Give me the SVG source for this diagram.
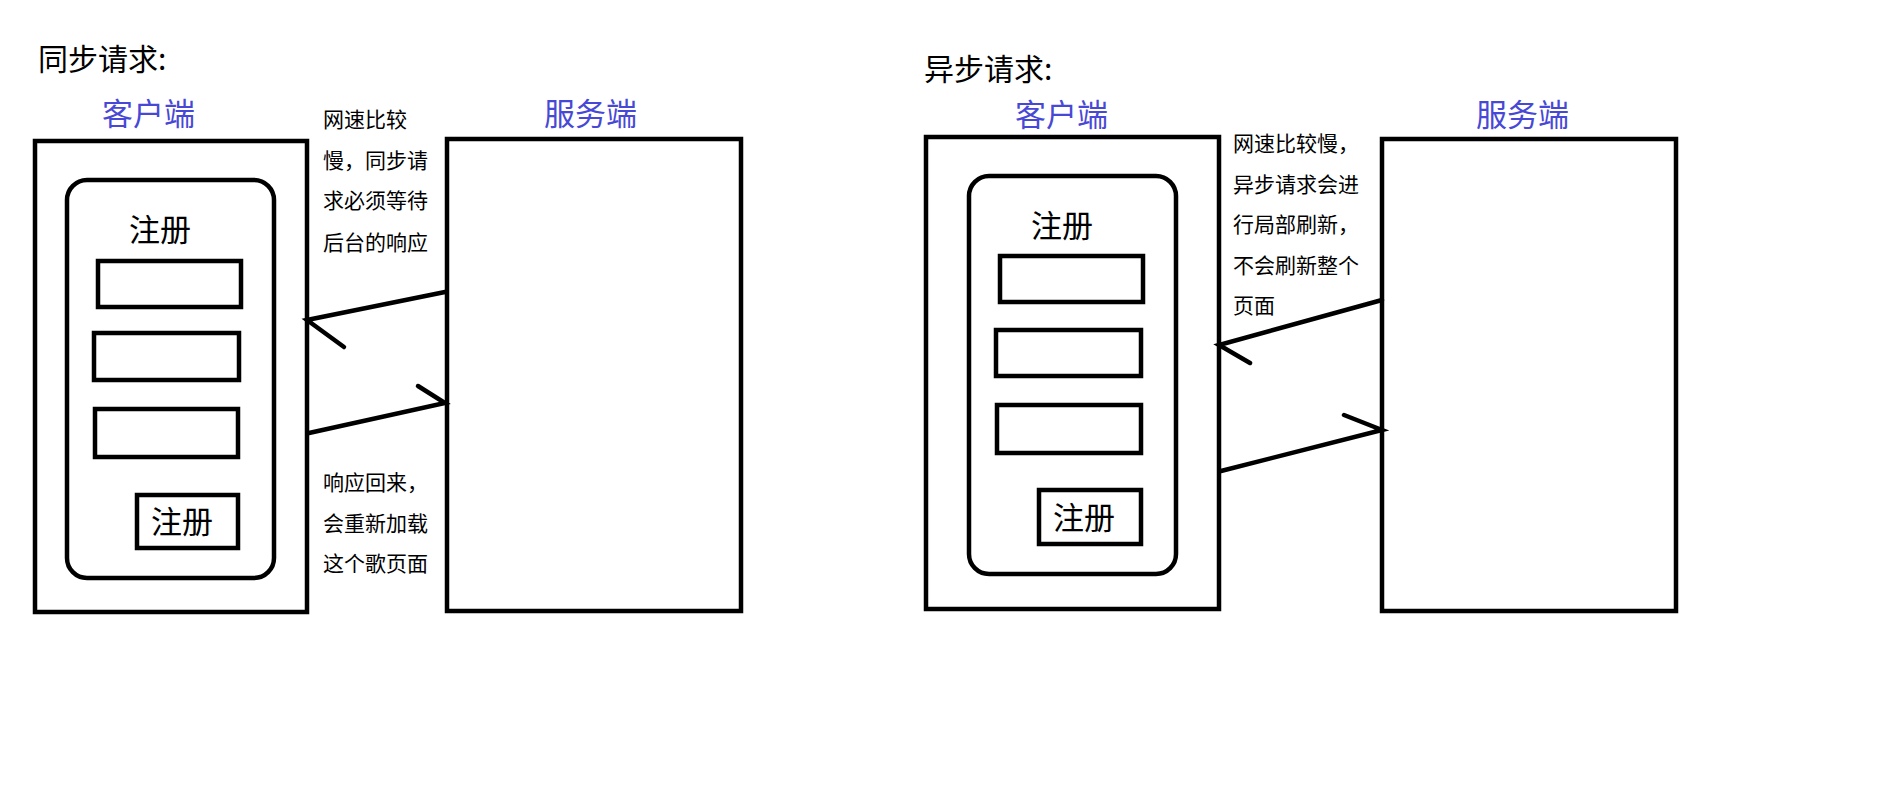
<svg xmlns="http://www.w3.org/2000/svg" width="1899" height="803" viewBox="0 0 1899 803">
<style>
.b{fill:none;stroke:#000;stroke-width:4.5}
.t{font-family:"Noto Sans CJK SC","Liberation Sans",sans-serif;fill:#000}
.h{font-size:30px}
.l{font-size:31px;fill:#4848d6}
.r{font-size:31px}
.s{font-size:21px}
.c{fill:none;stroke:#000;stroke-width:4.5;stroke-linecap:round}
</style>
<rect width="1899" height="803" fill="#fff"/>
<text class="t h" x="38" y="70">同步请求:</text>
<text class="t h" x="924" y="80">异步请求:</text>
<g id="client1">
<text class="t l" x="102" y="125">客户端</text>
<rect class="b" x="35" y="141" width="272" height="471"/>
<rect class="b" x="67" y="180" width="207" height="398" rx="20"/>
<text class="t r" x="129" y="241">注册</text>
<rect class="b" x="98" y="261" width="143" height="46"/>
<rect class="b" x="94" y="333" width="145" height="47"/>
<rect class="b" x="95" y="409" width="143" height="48"/>
<rect class="b" x="137" y="495" width="101" height="53"/>
<text class="t r" x="151" y="533">注册</text>
</g>
<g id="server1">
<text class="t l" x="544" y="125">服务端</text>
<rect class="b" x="447" y="139" width="294" height="472"/>
</g>
<g id="note1" class="t s">
<text x="323" y="127">网速比较</text>
<text x="323" y="168">慢，同步请</text>
<text x="323" y="208">求必须等待</text>
<text x="323" y="250">后台的响应</text>
<text x="323" y="490">响应回来，</text>
<text x="323" y="531">会重新加载</text>
<text x="323" y="571">这个歌页面</text>
</g>
<g id="client2">
<text class="t l" x="1015" y="126">客户端</text>
<rect class="b" x="926" y="137" width="293" height="472"/>
<rect class="b" x="969" y="176" width="207" height="398" rx="20"/>
<text class="t r" x="1031" y="237">注册</text>
<rect class="b" x="1000" y="256" width="143" height="46"/>
<rect class="b" x="996" y="330" width="145" height="46"/>
<rect class="b" x="997" y="405" width="144" height="48"/>
<rect class="b" x="1039" y="490" width="102" height="54"/>
<text class="t r" x="1053" y="529">注册</text>
</g>
<g id="server2">
<text class="t l" x="1476" y="126">服务端</text>
<rect class="b" x="1382" y="139" width="294" height="472"/>
</g>
<g id="note2" class="t s">
<text x="1233" y="151">网速比较慢，</text>
<text x="1233" y="192">异步请求会进</text>
<text x="1233" y="232">行局部刷新，</text>
<text x="1233" y="273">不会刷新整个</text>
<text x="1233" y="313">页面</text>
</g>
<g id="connectors">
<polyline class="c" points="445,292 307,320 344,347"/>
<polyline class="c" points="309,433 445,403 418,386"/>
<polyline class="c" points="1382,300 1219,345 1250,363"/>
<polyline class="c" points="1221,471 1382,430 1344,415"/>
</g>
</svg>
